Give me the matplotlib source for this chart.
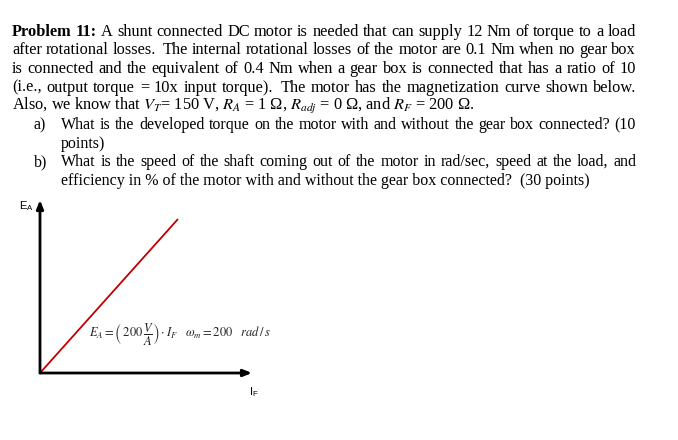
import matplotlib
matplotlib.use("Agg")
import matplotlib.pyplot as plt

plt.rcParams['mathtext.fontset'] = 'stix'

# Magnetization curve data (E_A = 200 V/A * I_F), illustrative
if_vals = [0.0, 1.0]
ea_vals = [0.0, 200.0]

W, H = 678, 440
fig = plt.figure(figsize=(W / 100, H / 100), dpi=100)
fig.patch.set_facecolor('white')

SERIF = 'Liberation Serif'
FS = 11.8
FS2 = 11.5
RIGHT = 636

renderer = fig.canvas.get_renderer()


def fy(y):
    return 1 - y / H


def fx(x):
    return x / W


def place_line(words, x_start, y, fs, justify=True, x_end=RIGHT):
    """words: list of (text, weight). Place words across line, justified."""
    arts = []
    widths = []
    for s, wt in words:
        if s == "":
            arts.append(None)
            widths.append(0.0)
            continue
        t = fig.text(0, fy(y), s, family=SERIF, weight=wt, fontsize=fs,
                     va='baseline', ha='left')
        arts.append(t)
        widths.append(t.get_window_extent(renderer=renderer).width)
    n = len(words)
    weights = [0.5 if a is None else 1.0 for a in arts]
    ngaps = sum(weights[:-1])
    gap = (x_end - x_start - sum(widths)) / ngaps if (justify and n > 1) else 0
    x = x_start
    for t, wd, wt in zip(arts, widths, weights):
        if t is not None:
            t.set_x(fx(x))
        x += wd + gap * wt


def w(s, wt='normal'):
    return [(p, wt) for p in s.split(' ')]


# Paragraph
place_line(w("Problem 11:", 'bold') +
           w("A shunt connected DC motor is needed that can supply 12 Nm of torque to a load"),
           12, 36, FS)
place_line(w("after rotational losses.  The internal rotational losses of the motor are 0.1 Nm when no gear box"),
           12, 54.5, FS)
place_line(w("is connected and the equivalent of 0.4 Nm when a gear box is connected that has a ratio of 10"),
           12, 73, FS)
place_line(w("(i.e., output torque = 10x input torque).  The motor has the magnetization curve shown below."),
           12, 91.5, FS)
place_line([(r"Also, we know that $V_T$= 150 V, $R_A$ = 1 Ω, $R_{adj}$ = 0 Ω, and $R_F$ = 200 Ω.", 'normal')],
           12, 110, FS, justify=False)

# Questions
fig.text(fx(34), fy(129), "a)", family=SERIF, fontsize=FS2, va='baseline', ha='left')
place_line(w("What is the developed torque on the motor with and without the gear box connected? (10"),
           61, 129, FS2)
place_line([("points)", 'normal')], 61, 147.5, FS2, justify=False)
fig.text(fx(34), fy(166), "b)", family=SERIF, fontsize=FS2, va='baseline', ha='left')
place_line(w("What is the speed of the shaft coming out of the motor in rad/sec, speed at the load, and"),
           61, 166, FS2)
place_line([("efficiency in % of the motor with and without the gear box connected?  (30 points)", 'normal')],
           61, 184.5, FS2, justify=False)

# Chart axes: origin at pixel (40, 373)
x0, y0 = 40, 373
aw, ah = 212, 173
ax = fig.add_axes([x0 / W, 1 - y0 / H, aw / W, ah / H])
ax.set_xlim(0, 1.536)
ax.set_ylim(0, 224.7)
ax.axis('off')

ax.plot(if_vals, ea_vals, color='#c00000', lw=1.3, solid_capstyle='butt')

# Axis arrows
for end in [(0, 1.0), (1.0, 0)]:
    ax.annotate('', xy=end, xytext=(0, 0), xycoords='axes fraction',
                arrowprops=dict(arrowstyle='-|>,head_length=0.5,head_width=0.2',
                                color='black', lw=2.0, shrinkA=0, shrinkB=0))

fig.text(fx(19), fy(206), r"E$_\mathregular{A}$", family='Liberation Sans',
         fontsize=8, va='center', ha='left')
fig.text(fx(249), fy(392), r"I$_\mathregular{F}$", family='Liberation Sans',
         fontsize=8, va='center', ha='left')

fig.text(fx(89), fy(334),
         r"$E_A = \left(\,200\,\dfrac{V}{A}\right)\cdot I_F\quad \omega_m = 200\quad rad\,/\,s$",
         fontsize=9.0, va='center', ha='left', color='#222222')

fig.savefig('out.png', dpi=100, facecolor='white')
